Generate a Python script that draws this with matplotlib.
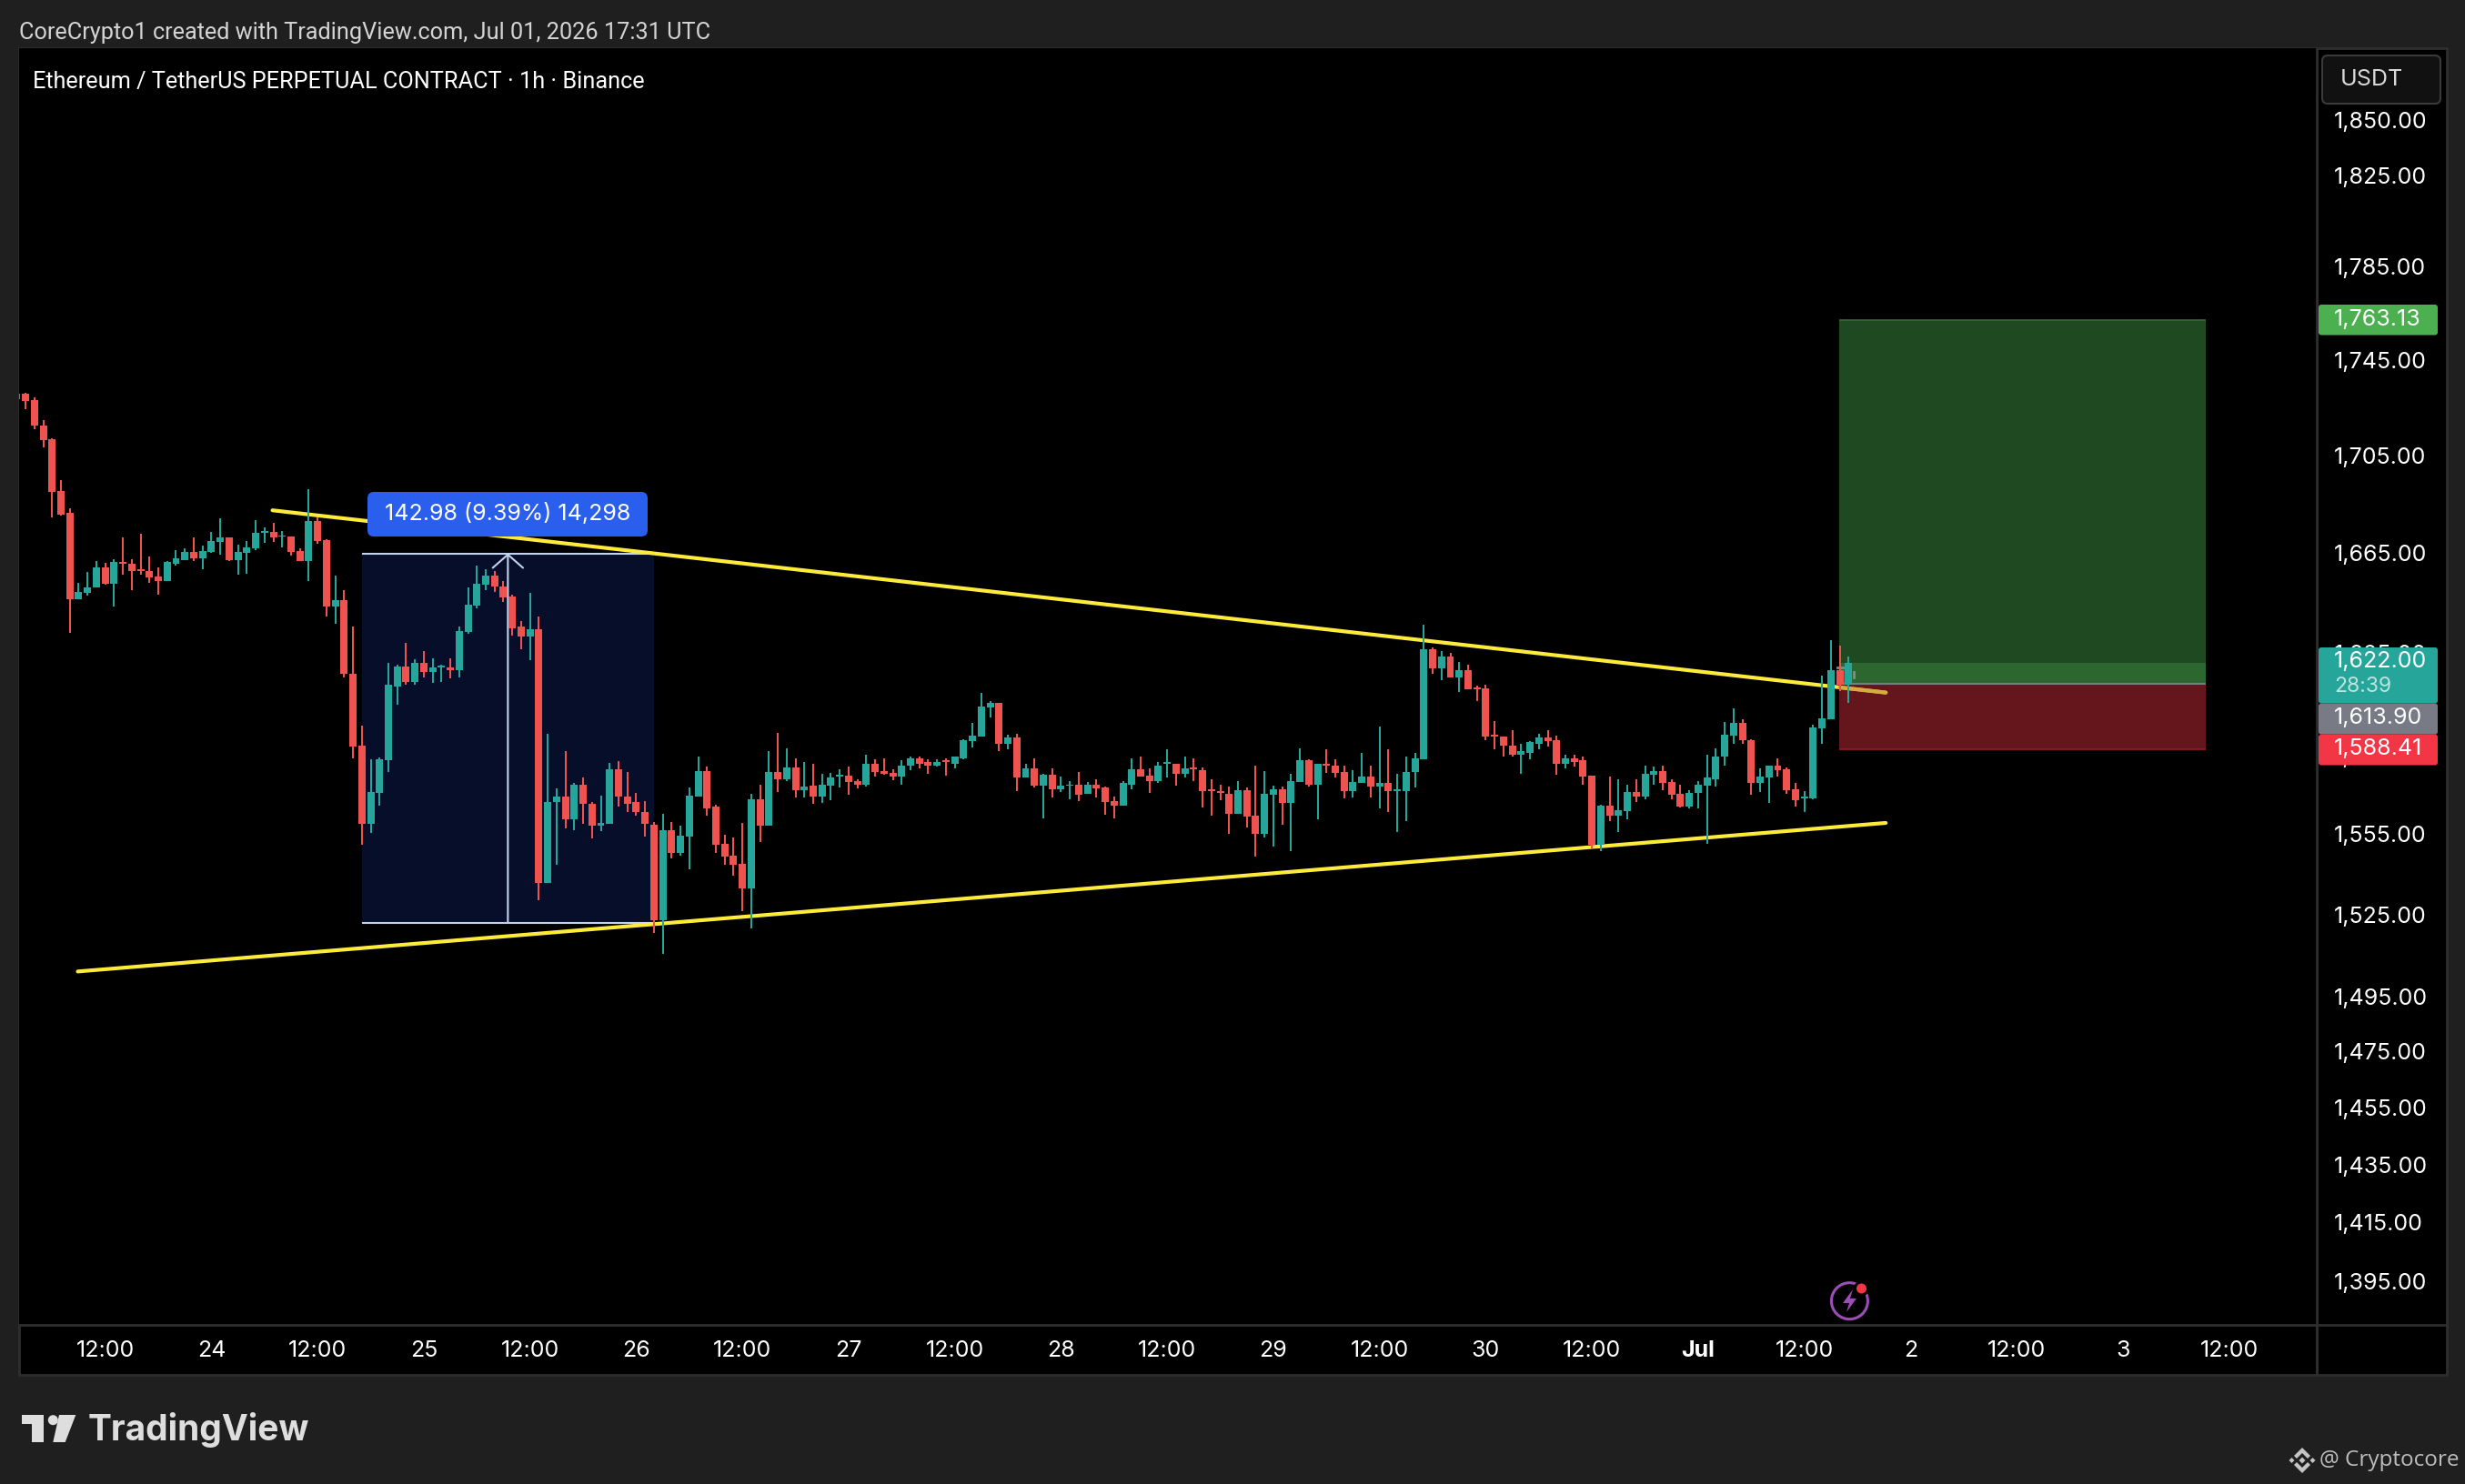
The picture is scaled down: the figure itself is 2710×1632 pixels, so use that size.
import numpy as np
import matplotlib
matplotlib.use("Agg")
import matplotlib.pyplot as plt
from matplotlib.patches import FancyBboxPatch, Polygon, Circle, Rectangle

# ETHUSDT.P 1h candles, hour 0 = Jun 24 00:00
opens = [1728.4,1730.8,1728.1,1717.5,1711.9,1690.4,1681.2,1646.6,1649.0,1651.0,
1659.1,1652.7,1661.4,1660.7,1658.5,1657.8,1655.6,1653.8,1660.8,1662.3,
1665.4,1662.8,1665.4,1669.5,1671.3,1662.0,1665.0,1666.8,1673.3,1673.5,
1671.6,1671.6,1665.9,1661.9,1678.0,1670.2,1643.6,1646.1,1617.0,1588.8,
1558.8,1570.8,1583.2,1612.0,1619.8,1613.7,1621.0,1617.4,1619.5,1619.5,
1618.2,1633.5,1643.9,1652.2,1655.9,1651.6,1647.5,1635.4,1631.4,1634.6,
1536.8,1567.1,1569.4,1560.8,1573.9,1566.7,1558.4,1559.1,1579.9,1569.4,
1567.2,1563.6,1558.6,1522.8,1556.5,1548.0,1554.1,1569.2,1578.9,1565.4,
1551.4,1547.0,1543.9,1534.7,1568.2,1558.2,1578.6,1576.1,1580.3,1571.6,
1573.4,1569.2,1573.4,1576.8,1577.2,1575.1,1574.0,1581.7,1578.9,1578.2,
1576.8,1581.0,1584.1,1582.4,1581.0,1583.1,1582.0,1584.1,1590.5,1592.5,
1603.8,1605.6,1589.4,1592.2,1576.5,1580.0,1573.4,1577.5,1572.0,1573.4,
1573.7,1570.3,1573.7,1572.7,1567.5,1565.8,1574.0,1579.6,1577.2,1575.4,
1581.7,1582.0,1577.9,1580.3,1579.3,1572.0,1571.3,1570.3,1562.7,1571.6,
1562.0,1555.2,1569.9,1572.0,1566.8,1574.8,1583.1,1573.7,1582.0,1581.3,
1578.6,1571.3,1574.4,1576.8,1573.0,1574.4,1571.3,1571.3,1578.6,1583.5,
1626.6,1619.1,1623.8,1615.6,1618.4,1611.6,1611.3,1593.2,1592.5,1589.0,
1585.2,1586.2,1589.7,1592.2,1590.8,1582.0,1584.1,1583.1,1577.2,1551.1,
1565.8,1562.0,1563.7,1571.0,1569.2,1577.5,1578.9,1574.8,1570.3,1565.4,
1570.6,1573.4,1576.1,1584.5,1592.9,1597.8,1591.1,1574.4,1576.5,1581.0,
1579.6,1572.0,1568.5,1568.5,1595.4,1599.2,1618.4,1612.7]

highs = [1731.0,1731.2,1729.2,1719.7,1712.2,1694.8,1683.1,1653.0,1657.3,1661.9,
1661.0,1662.4,1671.3,1662.4,1672.7,1663.6,1659.1,1661.7,1666.2,1667.1,
1671.3,1667.9,1673.5,1679.1,1671.5,1668.4,1669.8,1678.3,1675.3,1677.2,
1673.8,1671.6,1666.8,1691.2,1679.4,1670.5,1656.0,1650.0,1635.7,1596.6,
1583.7,1584.4,1621.0,1620.4,1628.9,1622.5,1625.7,1623.1,1620.4,1623.1,
1635.7,1651.2,1659.9,1658.4,1657.6,1653.6,1648.4,1637.8,1649.0,1639.6,
1593.3,1572.4,1586.6,1574.6,1576.5,1567.4,1569.8,1582.2,1582.9,1578.8,
1570.7,1567.7,1559.6,1562.7,1559.6,1558.2,1572.7,1584.8,1580.7,1566.1,
1554.8,1553.8,1559.3,1570.3,1574.0,1586.9,1593.9,1587.9,1584.1,1582.7,
1582.0,1577.9,1578.2,1579.6,1580.7,1576.1,1585.5,1583.5,1583.8,1579.6,
1583.1,1584.8,1584.5,1583.5,1583.5,1583.8,1584.8,1591.5,1597.8,1609.5,
1606.3,1605.6,1593.2,1593.6,1581.7,1583.8,1577.9,1580.0,1576.8,1575.4,
1578.6,1574.8,1575.8,1573.0,1569.2,1575.4,1583.8,1584.8,1580.0,1582.4,
1587.6,1582.0,1584.8,1583.8,1580.3,1576.1,1574.0,1573.0,1575.1,1572.7,
1581.3,1578.9,1573.4,1573.0,1577.9,1587.9,1583.5,1581.7,1587.6,1583.5,
1581.0,1579.3,1585.9,1581.0,1596.1,1587.3,1577.9,1584.5,1586.2,1636.3,
1627.3,1625.9,1625.2,1621.6,1620.6,1612.3,1612.7,1598.5,1592.5,1595.0,
1589.7,1590.5,1593.6,1595.0,1592.9,1585.5,1585.5,1584.8,1577.2,1566.1,
1576.8,1575.8,1573.7,1575.8,1581.0,1580.7,1581.3,1575.8,1574.0,1571.6,
1575.4,1585.2,1587.9,1598.2,1603.5,1599.2,1591.5,1580.0,1581.0,1583.8,
1580.3,1574.4,1571.3,1597.1,1616.0,1630.0,1627.9,1623.6]

lows = [1727.0,1724.1,1715.9,1708.2,1679.5,1680.3,1632.9,1646.6,1647.7,1651.0,
1652.2,1643.4,1656.4,1650.0,1656.4,1653.0,1648.4,1653.8,1659.9,1662.0,
1661.7,1658.5,1665.0,1664.4,1661.7,1656.4,1656.7,1666.3,1669.2,1669.5,
1667.3,1664.0,1661.6,1653.8,1668.7,1639.6,1636.6,1615.6,1583.8,1551.0,
1555.5,1565.8,1578.8,1604.7,1612.5,1612.6,1615.3,1613.2,1613.8,1614.9,
1615.6,1632.6,1642.9,1650.0,1649.5,1645.2,1631.9,1626.7,1622.4,1530.4,
1536.8,1543.6,1557.2,1556.5,1559.1,1553.6,1556.1,1559.1,1565.6,1563.6,
1562.2,1554.3,1518.0,1510.5,1546.0,1547.0,1541.8,1569.2,1562.0,1548.0,
1543.5,1539.4,1526.3,1519.9,1552.1,1558.2,1571.0,1575.1,1568.9,1568.9,
1566.5,1566.8,1567.9,1572.7,1569.9,1572.3,1573.0,1576.8,1577.5,1575.5,
1573.7,1579.3,1580.0,1577.9,1580.7,1577.2,1580.0,1583.5,1588.0,1592.5,
1599.9,1586.9,1587.6,1571.3,1576.5,1572.7,1561.0,1568.9,1571.0,1568.2,
1567.5,1570.3,1568.9,1562.3,1561.0,1565.8,1572.0,1576.8,1570.6,1574.4,
1576.5,1573.4,1576.5,1575.4,1565.1,1562.0,1567.9,1555.2,1562.7,1557.6,
1546.6,1553.8,1550.4,1558.6,1548.7,1574.8,1573.0,1560.6,1578.2,1576.5,
1568.5,1568.9,1574.4,1568.9,1564.8,1563.4,1555.9,1560.0,1572.7,1583.5,
1617.0,1614.5,1615.6,1609.8,1610.9,1606.0,1590.8,1587.3,1584.8,1584.8,
1577.9,1583.5,1587.3,1588.4,1577.5,1580.0,1580.7,1573.7,1549.4,1548.7,
1560.0,1555.9,1560.6,1567.2,1568.2,1574.0,1571.6,1568.2,1565.1,1564.8,
1564.8,1551.4,1573.0,1581.0,1589.4,1589.7,1569.9,1571.0,1566.8,1576.8,
1570.3,1565.4,1563.4,1568.2,1589.7,1599.2,1610.2,1605.5]

closes = [1730.8,1727.8,1717.3,1711.4,1690.1,1680.8,1646.6,1649.4,1651.2,1659.1,
1652.5,1661.4,1660.5,1657.8,1657.8,1655.2,1653.8,1661.4,1662.8,1665.6,
1662.8,1665.9,1669.8,1671.3,1662.0,1665.4,1667.3,1673.2,1673.8,1671.3,
1672.1,1665.6,1661.7,1678.0,1669.8,1643.6,1646.1,1616.7,1588.5,1558.8,
1571.1,1583.7,1612.5,1619.8,1613.7,1621.0,1617.4,1619.5,1620.0,1618.2,
1633.8,1644.3,1652.7,1655.9,1651.4,1647.2,1634.9,1631.4,1634.6,1536.8,
1567.4,1569.4,1560.8,1573.9,1566.4,1558.4,1559.4,1579.9,1569.2,1566.7,
1563.3,1558.8,1522.8,1556.5,1548.0,1554.5,1569.6,1578.9,1564.8,1551.1,
1546.6,1543.5,1534.7,1568.2,1558.2,1578.6,1576.1,1580.3,1571.6,1573.0,
1569.2,1573.7,1576.5,1577.5,1574.8,1574.0,1581.7,1578.6,1577.9,1576.8,
1581.3,1584.1,1582.0,1581.0,1582.7,1582.4,1584.5,1590.8,1592.9,1604.1,
1605.6,1589.4,1592.2,1576.5,1580.0,1573.4,1577.5,1572.0,1573.4,1574.0,
1569.9,1573.7,1572.3,1567.2,1565.8,1574.4,1579.6,1576.8,1575.4,1581.3,
1582.4,1577.9,1580.0,1579.6,1571.3,1571.3,1570.6,1562.7,1571.6,1561.7,
1555.2,1570.3,1572.0,1566.8,1575.1,1583.1,1573.7,1581.7,1581.3,1578.2,
1571.3,1574.8,1576.8,1573.0,1574.4,1571.3,1572.0,1578.6,1583.8,1626.6,
1619.1,1623.8,1615.6,1618.4,1610.9,1610.9,1592.5,1592.5,1588.7,1585.2,
1586.6,1590.1,1592.2,1590.5,1582.0,1584.1,1582.7,1576.8,1551.1,1565.8,
1562.0,1564.1,1571.0,1569.2,1577.9,1578.9,1574.4,1569.9,1565.4,1570.6,
1573.7,1576.5,1584.8,1593.2,1597.8,1590.8,1574.4,1576.8,1581.0,1579.3,
1571.6,1567.9,1569.2,1596.0,1599.6,1618.4,1612.7,1621.3]

start_hour = -22

# price axis
price_ticks = [1850, 1825, 1785, 1745, 1705, 1665, 1625, 1585, 1555, 1525, 1495, 1475, 1455, 1435, 1415, 1395]

# time axis
time_ticks = [-12, 0, 12, 24, 36, 48, 60, 72, 84, 96, 108, 120, 132, 144, 156, 168, 180, 192, 204, 216, 228]
time_labels = ["12:00", "24", "12:00", "25", "12:00", "26", "12:00", "27", "12:00", "28", "12:00", "29",
               "12:00", "30", "12:00", "Jul", "12:00", "2", "12:00", "3", "12:00"]

# drawings
upper_line_h = [6.9, 189.2]
upper_line_p = [1682.4, 1609.5]
upper_tail_h = [184, 189.2]
upper_tail_p = [1611.5, 1609.5]
lower_line_h = [-15.1, 189.2]
lower_line_p = [1504.0, 1559.3]

measure_h = [17, 50]
measure_p = [1521.9, 1664.9]

pos_h = [183.9, 225.4]
pos_target = 1762.2
pos_last = 1621.1
pos_entry = 1613.0
pos_stop = 1587.5

UP = "#26A69A"
DOWN = "#EF5350"
FRAME = "#1F1F1F"
LINE = "#2E2E2E"
FONT = "Inter"
TICK_SIZE = 18

W, H = 2710, 1632
fig = plt.figure(figsize=(W / 100, H / 100), dpi=100, facecolor=FRAME)

# background and top layers work in picture pixels
bg = fig.add_axes([0, 0, 1, 1], zorder=-1)
top = fig.add_axes([0, 0, 1, 1], zorder=5)
for a in (bg, top):
    a.set_xlim(0, W)
    a.set_ylim(H, 0)
    a.axis("off")
    a.patch.set_alpha(0)

bg.add_patch(Rectangle((21, 53), 2669, 1459, fc="black", ec=LINE, lw=2))

ax = fig.add_axes([21 / W, (H - 1457) / H, 2526 / W, 1404 / H], facecolor="black", zorder=1)
ax.set_yscale("log")
ax.set_xlim(-21.73, 237.9)
ax.set_ylim(1380.2, 1882.4)

o = np.array(opens)
c = np.array(closes)
hi = np.array(highs)
lo = np.array(lows)
hours = start_hour + np.arange(len(o))
colors = [UP if cc >= oo else DOWN for oo, cc in zip(o, c)]

# long position box
ax.fill_between(pos_h, pos_entry, pos_target, color="#4CAF50", alpha=0.42, lw=0, zorder=2)
ax.fill_between(pos_h, pos_entry, pos_last, color="#4CAF50", alpha=0.30, lw=0, zorder=2)
ax.fill_between(pos_h, pos_stop, pos_entry, color="#F23645", alpha=0.42, lw=0, zorder=2)
ax.hlines(pos_target, pos_h[0], pos_h[1], color="#2F6B33", lw=1.2, zorder=2)
ax.hlines(pos_entry, pos_h[0], pos_h[1], color="#787B86", lw=1.5, zorder=2)
ax.hlines(pos_stop, pos_h[0], pos_h[1], color="#8F2029", lw=1.2, zorder=2)
ax.plot([183.7, 184.3], [1619.5, 1619.5], color="#8A8A8A", lw=2, zorder=2.5)
ax.plot([185.6, 185.6], [1617.4, 1615.6], color="#8A8A8A", lw=2, zorder=2.5)

# date/price range
ax.fill_between(measure_h, measure_p[0], measure_p[1], color="#060E2A", lw=0, zorder=0.5)
ax.hlines(measure_p, measure_h[0], measure_h[1], color="#C3D3EE", lw=1.5, zorder=1.2)
mid = sum(measure_h) / 2
ax.annotate("", xy=(mid, measure_p[1]), xytext=(mid, measure_p[0]), zorder=1.2,
            arrowprops=dict(arrowstyle="->,head_length=0.35,head_width=0.4", color="#C3D3EE",
                            lw=1.5, shrinkA=0, shrinkB=0, mutation_scale=30))

# trend lines
ax.plot(upper_line_h, upper_line_p, color="#FFEB3B", lw=3, solid_capstyle="round", zorder=1.5)
ax.plot(upper_tail_h, upper_tail_p, color="#D4AE3A", lw=3, solid_capstyle="round", zorder=2.2)
ax.plot(lower_line_h, lower_line_p, color="#FFEB3B", lw=3, solid_capstyle="round", zorder=1.5)

# candles
ax.vlines(hours, lo, hi, colors=colors, lw=1.44, zorder=3)
ax.bar(hours, np.abs(c - o), bottom=np.minimum(o, c), width=0.82, color=colors, lw=0, zorder=3)

ax.yaxis.tick_right()
ax.set_yticks(price_ticks)
ax.set_yticklabels([f"{p:,.2f}" for p in price_ticks])
ax.yaxis.set_minor_locator(plt.NullLocator())
ax.set_xticks(time_ticks)
ax.set_xticklabels(time_labels)
ax.tick_params(axis="y", length=0, pad=13.7, labelsize=TICK_SIZE, labelcolor="white", labelfontfamily=FONT)
ax.tick_params(axis="x", length=0, pad=12.5, labelsize=TICK_SIZE, labelcolor="white", labelfontfamily=FONT)
for t in ax.get_xticklabels():
    if t.get_text() == "Jul":
        t.set_fontweight("bold")
for s in ax.spines.values():
    s.set_visible(False)

# frame lines
bg.plot([21, 2690], [1457, 1457], color=LINE, lw=2)
bg.plot([2547, 2547], [53, 1512], color=LINE, lw=2)
top.plot([21, 2547], [1457, 1457], color=LINE, lw=2)
top.plot([2547, 2547], [53, 1512], color=LINE, lw=2)

# header text
top.text(21, 36, "CoreCrypto1 created with TradingView.com, Jul 01, 2026 17:31 UTC", color="#D4D4D4",
         fontsize=18.2, family="Roboto", va="center")
top.text(36, 90.5, "Ethereum / TetherUS PERPETUAL CONTRACT · 1h · Binance", color="white",
         fontsize=18.2, family="Roboto", va="center")

# currency button
top.add_patch(FancyBboxPatch((2553, 61), 130, 53, boxstyle="round,pad=0,rounding_size=6", fc="#111111", ec="#3A3A3A", lw=1.5))
top.text(2573, 88, "USDT", color="#D8D8D8", fontsize=TICK_SIZE, family=FONT, va="center")


def price_tag(y0, y1, color, text, ty, tcolor="white"):
    top.add_patch(FancyBboxPatch((2549, y0), 131, y1 - y0, boxstyle="round,pad=0,rounding_size=3", fc=color, lw=0))
    top.text(2566, ty, text, color=tcolor, fontsize=TICK_SIZE, family=FONT, va="center")


price_tag(335, 368.5, "#4CAF50", "1,763.13", 351)
price_tag(712, 773.5, UP, "1,622.00", 728)
top.text(2566, 755, "28:39", color="#BFE3DF", fontsize=16.5, family=FONT, va="center")
price_tag(773.5, 807.7, "#787B86", "1,613.90", 789)
price_tag(807.7, 841.5, "#F23645", "1,588.41", 824)

# measure label
top.add_patch(FancyBboxPatch((404, 541), 308, 49, boxstyle="round,pad=0,rounding_size=7", fc="#2A5FEE", lw=0))
top.text(558, 565.5, "142.98 (9.39%) 14,298", color="white", fontsize=TICK_SIZE, family=FONT, ha="center", va="center")

# lightning badge
top.add_patch(Circle((2033.4, 1430.7), 20, fc="none", ec="#9C4DB8", lw=2.2))
top.add_patch(Polygon([(2037, 1418), (2026, 1433), (2033, 1433), (2030, 1443), (2041, 1428), (2034, 1428)], fc="#9C4DB8", lw=0))
top.add_patch(Circle((2046.5, 1417), 8.5, fc="black", lw=0))
top.add_patch(Circle((2046.5, 1417), 5.5, fc="#F23645", lw=0))

# TradingView logo
LOGO = "#DEDEDE"
top.add_patch(Polygon([(24, 1556), (48.3, 1556), (48.3, 1586), (35, 1586), (35, 1566), (24, 1566)], fc=LOGO, lw=0))
top.add_patch(Circle((58.3, 1561.7), 5.5, fc=LOGO, lw=0))
top.add_patch(Polygon([(65, 1556), (83.3, 1556), (71.7, 1586), (58.3, 1586)], fc=LOGO, lw=0))
top.text(97, 1572, "TradingView", color=LOGO, fontsize=28, family=FONT, fontweight="bold", va="center")

# author mark
cx, cy = 2531, 1606
for dx, r in [(0, 3.5), (-11.5, 3), (11.5, 3)]:
    top.add_patch(Polygon([(cx + dx - r, cy), (cx + dx, cy - r), (cx + dx + r, cy), (cx + dx, cy + r)], fc="#C4C4C4", lw=0))
for s in (-1, 1):
    top.add_patch(Polygon([(cx, cy + s * 14), (cx + 9, cy + s * 5), (cx + 6, cy + s * 2), (cx, cy + s * 8),
                           (cx - 6, cy + s * 2), (cx - 9, cy + s * 5)], fc="#C4C4C4", lw=0))
top.text(2550, 1606, "@ Cryptocore", color="#BDBDBD", fontsize=17.5, family="Open Sans", va="center")

fig.savefig("out.png", dpi=100, facecolor=FRAME)
